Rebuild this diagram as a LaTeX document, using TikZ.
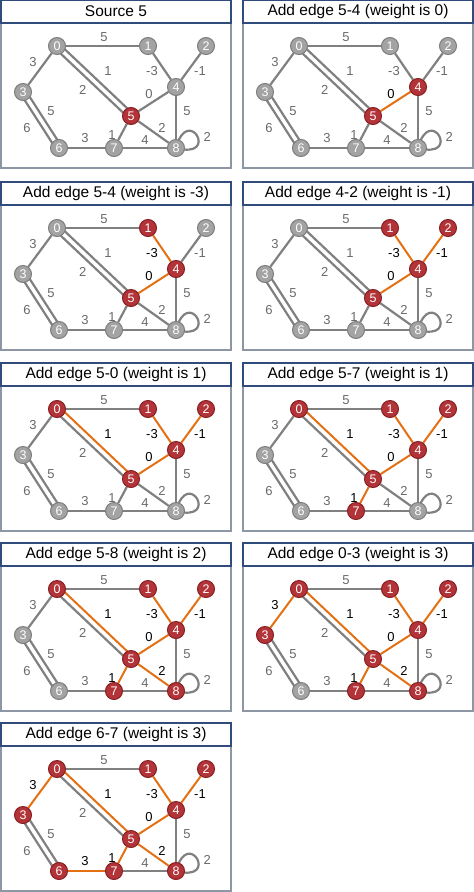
\documentclass[tikz,border=0pt]{standalone}
\usepackage{fontspec}
\setmainfont{Liberation Sans}
\usepackage{tikz}
\usetikzlibrary{calc, backgrounds}
\definecolor{navyframe}{RGB}{47, 76, 125}
\definecolor{panelgray}{RGB}{140, 150, 165}
\definecolor{edgegray}{RGB}{128, 128, 128}
\definecolor{labelgray}{RGB}{105, 105, 105}
\definecolor{vertgray}{RGB}{163, 163, 163}
\definecolor{vertgraydark}{RGB}{125, 125, 125}
\definecolor{vertred}{RGB}{178, 52, 56}
\definecolor{vertreddark}{RGB}{135, 30, 35}
\definecolor{treeorange}{RGB}{228, 112, 20}

% one panel: frame, title, the nine vertices and their weighted edges
\newcommand{\drawpanel}[2]{%
  \draw[bodyframe] (1,0) rectangle (231,168);
  \node[titlebox] (#1-title) at (116,11.5) {#2};
  % vertices
  \node[vert, v0] (#1-0) at (57,46) {0};
  \node[vert, v1] (#1-1) at (148,46) {1};
  \node[vert, v2] (#1-2) at (206,46) {2};
  \node[vert, v3] (#1-3) at (23,92) {3};
  \node[vert, v4] (#1-4) at (176,87) {4};
  \node[vert, v5] (#1-5) at (131,116) {5};
  \node[vert, v6] (#1-6) at (59,148) {6};
  \node[vert, v7] (#1-7) at (114,148) {7};
  \node[vert, v8] (#1-8) at (176,148) {8};
  % edges, kept behind the vertices
  \begin{scope}[on background layer]
    \draw[e01] (#1-0) -- (#1-1) node[lbl, shift={(1.5,-9)}] {5};
    \draw[e03] (#1-0) -- (#1-3) node[lbl, shift={(-7,-7)}] {3};
    \draw[e05a] ($(#1-0.center)!3pt!90:(#1-5.center)$) -- ($(#1-5.center)!3pt!-90:(#1-0.center)$) node[lbl, pos=.53, shift={(9.6,-10)}] {1};
    \draw[e05b] ($(#1-0.center)!3pt!-90:(#1-5.center)$) -- ($(#1-5.center)!3pt!90:(#1-0.center)$) node[lbl, pos=.48, shift={(-7.6,8)}] {2};
    \draw[e14] (#1-1) -- (#1-4) node[lbl, shift={(-10,4.5)}] {-3};
    \draw[e24] (#1-2) -- (#1-4) node[lbl, shift={(9,4.5)}] {-1};
    \draw[e54] (#1-5) -- (#1-4) node[lbl, shift={(-4.5,-7)}] {0};
    \draw[e36a] ($(#1-3.center)!3pt!90:(#1-6.center)$) -- ($(#1-6.center)!3pt!-90:(#1-3.center)$) node[lbl, shift={(7.5,-7.4)}] {5};
    \draw[e36b] ($(#1-3.center)!3pt!-90:(#1-6.center)$) -- ($(#1-6.center)!3pt!90:(#1-3.center)$) node[lbl, shift={(-11.5,6.4)}] {6};
    \draw[e48] (#1-4) -- (#1-8) node[lbl, shift={(11,-6.5)}] {5};
    \draw[e58] (#1-5) -- (#1-8) node[lbl, shift={(8.5,-4)}] {2};
    \draw[e57] (#1-5) -- (#1-7) node[lbl, shift={(-10.5,3)}] {1};
    \draw[e67] (#1-6) -- (#1-7) node[lbl, shift={(-1.5,-10)}] {3};
    \draw[e78] (#1-7) -- (#1-8) node[lbl, shift={(0,-8)}] {4};
    \draw[colde] (#1-8.center) .. controls +(75:46pt) and +(-15:46pt) .. (#1-8.center) node[lbl, pos=.5, shift={(10,1)}] {2};
  \end{scope}
}

\begin{document}
\begin{tikzpicture}[
    x=1pt, y=-1pt,
    bodyframe/.style={draw=panelgray, line width=1.2pt},
    titlebox/.style={draw=navyframe, fill=white, line width=1.2pt, minimum width=230pt, minimum height=23pt, inner sep=0pt, font=\fontsize{15.5}{17}\selectfont},
    vert/.style={circle, minimum size=17pt, inner sep=0pt, line width=1pt, text=white, font=\fontsize{12.5}{13}\selectfont},
    coldv/.style={fill=vertgray, draw=vertgraydark},
    hotv/.style={fill=vertred, draw=vertreddark},
    colde/.style={draw=edgegray, line width=2.2pt, text=labelgray},
    hote/.style={draw=treeorange, line width=2pt, text=black},
    lbl/.style={midway, inner sep=0pt, font=\fontsize{13}{14}\selectfont},
    v0/.style=coldv, v1/.style=coldv, v2/.style=coldv,
    v3/.style=coldv, v4/.style=coldv, v5/.style=coldv,
    v6/.style=coldv, v7/.style=coldv, v8/.style=coldv,
    e01/.style=colde, e03/.style=colde, e05a/.style=colde, e05b/.style=colde,
    e14/.style=colde, e24/.style=colde, e54/.style=colde, e36a/.style=colde,
    e36b/.style=colde, e48/.style=colde, e58/.style=colde, e57/.style=colde,
    e67/.style=colde, e78/.style=colde
]
\useasboundingbox (0,0) rectangle (474,892);

% Source
\begin{scope}[shift={(0,0)}, v5/.style=hotv]
  \drawpanel{st1}{Source 5}
\end{scope}

% First edge
\begin{scope}[shift={(242,0)}, v4/.style=hotv, v5/.style=hotv, e54/.style=hote]
  \drawpanel{st2}{Add edge 5-4 (weight is 0)}
\end{scope}

\begin{scope}[shift={(0,182)}, v1/.style=hotv, v4/.style=hotv, v5/.style=hotv,
    e54/.style=hote, e14/.style=hote]
  \drawpanel{st3}{Add edge 5-4 (weight is -3)}
\end{scope}

\begin{scope}[shift={(242,182)}, v1/.style=hotv, v2/.style=hotv, v4/.style=hotv, v5/.style=hotv,
    e54/.style=hote, e14/.style=hote, e24/.style=hote]
  \drawpanel{st4}{Add edge 4-2 (weight is -1)}
\end{scope}

\begin{scope}[shift={(0,363)}, v0/.style=hotv, v1/.style=hotv, v2/.style=hotv, v4/.style=hotv, v5/.style=hotv,
    e54/.style=hote, e14/.style=hote, e24/.style=hote, e05a/.style=hote]
  \drawpanel{st5}{Add edge 5-0 (weight is 1)}
\end{scope}

\begin{scope}[shift={(242,363)}, v0/.style=hotv, v1/.style=hotv, v2/.style=hotv, v4/.style=hotv, v5/.style=hotv,
    v7/.style=hotv, e54/.style=hote, e14/.style=hote, e24/.style=hote, e05a/.style=hote, e57/.style=hote]
  \drawpanel{st6}{Add edge 5-7 (weight is 1)}
\end{scope}

\begin{scope}[shift={(0,543)}, v0/.style=hotv, v1/.style=hotv, v2/.style=hotv, v4/.style=hotv, v5/.style=hotv,
    v7/.style=hotv, v8/.style=hotv, e54/.style=hote, e14/.style=hote, e24/.style=hote, e05a/.style=hote,
    e57/.style=hote, e58/.style=hote]
  \drawpanel{st7}{Add edge 5-8 (weight is 2)}
\end{scope}

\begin{scope}[shift={(242,543)}, v0/.style=hotv, v1/.style=hotv, v2/.style=hotv, v3/.style=hotv, v4/.style=hotv,
    v5/.style=hotv, v7/.style=hotv, v8/.style=hotv, e54/.style=hote, e14/.style=hote, e24/.style=hote,
    e05a/.style=hote, e57/.style=hote, e58/.style=hote, e03/.style=hote]
  \drawpanel{st8}{Add edge 0-3 (weight is 3)}
\end{scope}

% Last edge
\begin{scope}[shift={(0,723)}, v0/.style=hotv, v1/.style=hotv, v2/.style=hotv, v3/.style=hotv, v4/.style=hotv,
    v5/.style=hotv, v6/.style=hotv, v7/.style=hotv, v8/.style=hotv, e54/.style=hote, e14/.style=hote,
    e24/.style=hote, e05a/.style=hote, e57/.style=hote, e58/.style=hote, e03/.style=hote, e67/.style=hote]
  \drawpanel{st9}{Add edge 6-7 (weight is 3)}
\end{scope}

\end{tikzpicture}
\end{document}
